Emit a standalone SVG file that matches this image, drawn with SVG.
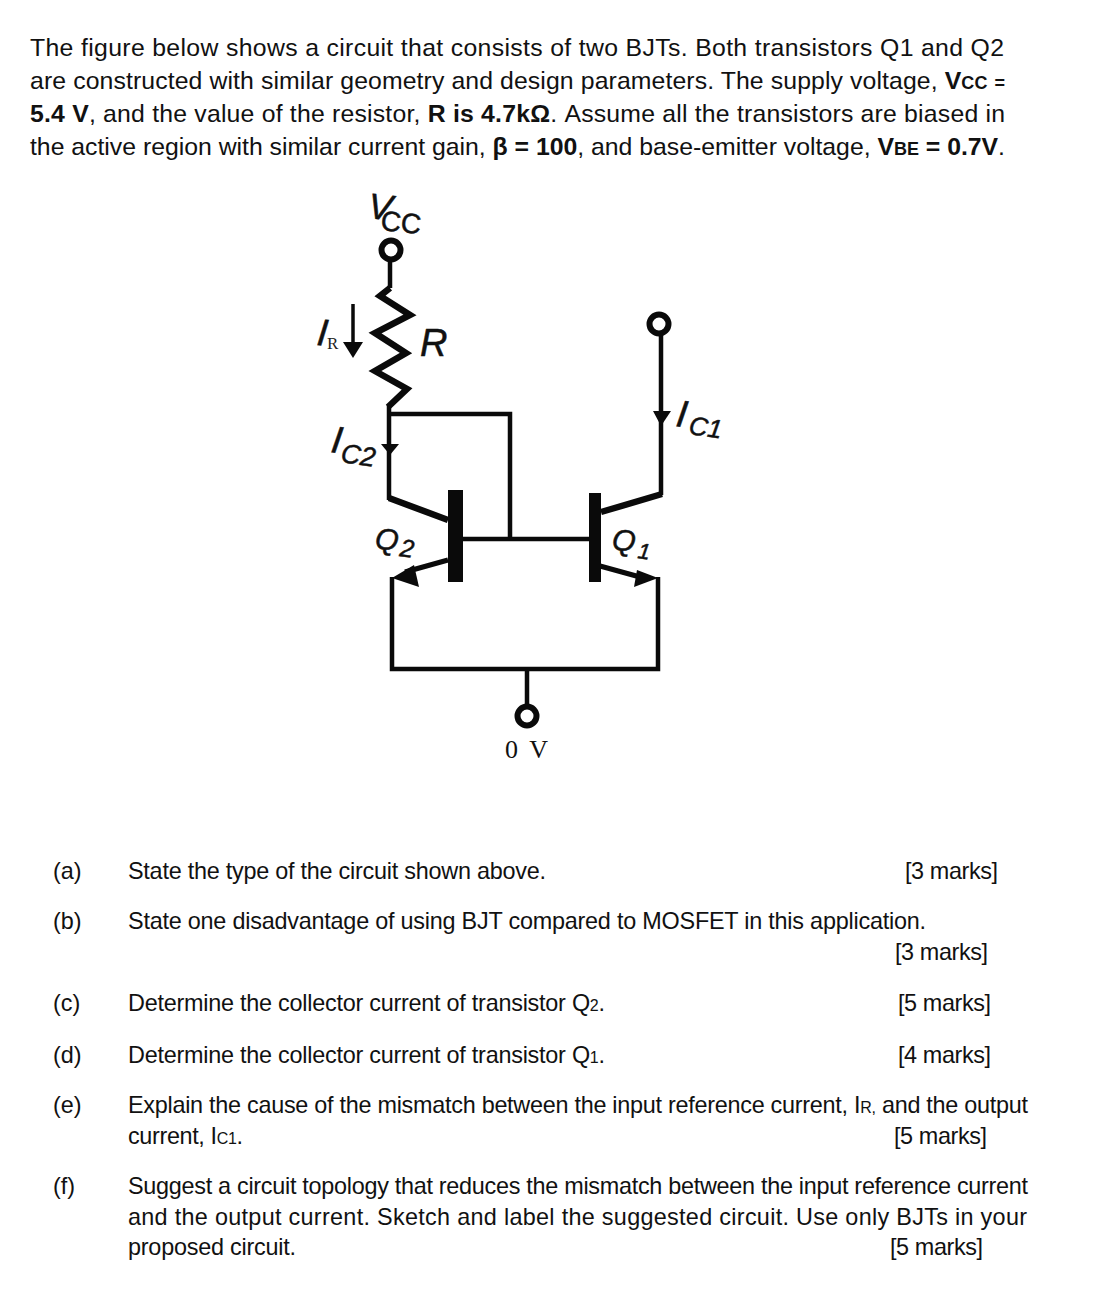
<svg xmlns="http://www.w3.org/2000/svg" width="1097" height="1313" viewBox="0 0 1097 1313">
<style>
.t{font-family:"Liberation Sans",Arial,sans-serif;font-size:24.8px;fill:#111}
.q{font-family:"Liberation Sans",Arial,sans-serif;font-size:23.4px;fill:#111}
.b{font-weight:700}
.s{font-size:18px}
.lbl{font-family:"Liberation Sans",Arial,sans-serif;font-style:italic;fill:#111;stroke:#111;stroke-width:.5}
.w{fill:none;stroke:#0a0a0a;stroke-width:4.5;stroke-linejoin:miter}
.w5{fill:none;stroke:#0a0a0a;stroke-width:6.5}
.a{fill:#0a0a0a;stroke:none}
</style>
<rect width="1097" height="1313" fill="#fff"/>
<g id="intro">
<text class="t" x="30" y="56" textLength="974" lengthAdjust="spacing">The figure below shows a circuit that consists of two BJTs. Both transistors Q1 and Q2</text>
<text class="t" x="30" y="89" textLength="975" lengthAdjust="spacing">are constructed with similar geometry and design parameters. The supply voltage, <tspan class="b">V</tspan><tspan class="b s">CC</tspan> <tspan class="b s">=</tspan></text>
<text class="t" x="30" y="122" textLength="975" lengthAdjust="spacing"><tspan class="b">5.4 V</tspan>, and the value of the resistor, <tspan class="b">R is 4.7kΩ</tspan>. Assume all the transistors are biased in</text>
<text class="t" x="30" y="155" textLength="975" lengthAdjust="spacing">the active region with similar current gain, <tspan class="b">β = 100</tspan>, and base-emitter voltage, <tspan class="b">V</tspan><tspan class="b s">BE</tspan> <tspan class="b">= 0.7V</tspan>.</text>
</g>
<g id="connectors">
<path class="w" d="M390 258V288"/>
<path class="w5" d="M390 288L380 296L410 315L375 333L406 353L375 371L407 389L388 407"/>
<path class="w" d="M389 405V500M389 414H510V539M463 539H590M661 332V495"/>
<path class="w5" d="M389 498L448 520M601 512L662 494"/>
<path class="w" d="M392 577V669H658V577M527 669V706"/>
<path d="M353 304V345" fill="none" stroke="#0a0a0a" stroke-width="3.5"/>
<path d="M448 560L405 572M600 566L640 577" fill="none" stroke="#0a0a0a" stroke-width="5"/>
</g>
<g id="arrows">
<polygon class="a" points="343,342 363,342 353,358"/>
<polygon class="a" points="653,411 671,411 661,426"/>
<polygon class="a" points="381,444 399,444 390,455"/>
<polygon class="a" points="392,578 414,565 419,587"/>
<polygon class="a" points="658,578 637,570 634,587"/>
</g>
<g id="Q2"><rect x="448" y="490" width="15" height="92" fill="#0a0a0a"/></g>
<g id="Q1"><rect x="589" y="493" width="12" height="89" fill="#0a0a0a"/></g>
<g id="terminals">
<circle cx="391" cy="250" r="9.5" fill="#fff" stroke="#0a0a0a" stroke-width="6"/>
<circle cx="659" cy="324" r="9.5" fill="#fff" stroke="#0a0a0a" stroke-width="6"/>
<circle cx="527" cy="716" r="9.5" fill="#fff" stroke="#0a0a0a" stroke-width="6"/>
</g>
<g id="labels">
<text class="lbl" transform="translate(367 218) rotate(6)" font-size="36">V</text>
<text class="lbl" transform="translate(380 230) rotate(6)" font-size="28" style="font-style:normal">CC</text>
<text class="lbl" transform="translate(316 345) rotate(6)" font-size="38">I</text>
<text x="327" y="349" font-family="Liberation Serif,serif" font-size="17" fill="#222">R</text>
<text class="lbl" x="420" y="356" font-size="38">R</text>
<text class="lbl" transform="translate(330 452) rotate(8)" font-size="38">I</text>
<text class="lbl" transform="translate(340 462) rotate(8)" font-size="27">C2</text>
<text class="lbl" transform="translate(675 426) rotate(8)" font-size="38">I</text>
<text class="lbl" transform="translate(688 434) rotate(8)" font-size="26">C1</text>
<text class="lbl" transform="translate(374 548) rotate(8)" font-size="30">Q</text>
<text class="lbl" transform="translate(399 556) rotate(8)" font-size="25">2</text>
<text class="lbl" transform="translate(611 549) rotate(8)" font-size="30">Q</text>
<text class="lbl" transform="translate(637 558) rotate(8)" font-size="22">1</text>
<text x="505" y="758" font-family="Liberation Serif,serif" font-size="26" fill="#111" textLength="43" lengthAdjust="spacing">0 V</text>
</g>
<g id="questions">
<text class="q" x="53" y="879">(a)</text>
<text class="q" x="128" y="879" textLength="418" lengthAdjust="spacing">State the type of the circuit shown above.</text>
<text class="q" x="905" y="879" textLength="93" lengthAdjust="spacing">[3 marks]</text>
<text class="q" x="53" y="929">(b)</text>
<text class="q" x="128" y="929" textLength="798" lengthAdjust="spacing">State one disadvantage of using BJT compared to MOSFET in this application.</text>
<text class="q" x="895" y="960" textLength="93" lengthAdjust="spacing">[3 marks]</text>
<text class="q" x="53" y="1011">(c)</text>
<text class="q" x="128" y="1011" textLength="477" lengthAdjust="spacing">Determine the collector current of transistor Q<tspan font-size="16">2</tspan>.</text>
<text class="q" x="898" y="1011" textLength="93" lengthAdjust="spacing">[5 marks]</text>
<text class="q" x="53" y="1063">(d)</text>
<text class="q" x="128" y="1063" textLength="477" lengthAdjust="spacing">Determine the collector current of transistor Q<tspan font-size="16">1</tspan>.</text>
<text class="q" x="898" y="1063" textLength="93" lengthAdjust="spacing">[4 marks]</text>
<text class="q" x="53" y="1113">(e)</text>
<text class="q" x="128" y="1113" textLength="900" lengthAdjust="spacing">Explain the cause of the mismatch between the input reference current, I<tspan font-size="16">R,</tspan> and the output</text>
<text class="q" x="128" y="1144" textLength="115" lengthAdjust="spacing">current, I<tspan font-size="16">C1</tspan>.</text>
<text class="q" x="894" y="1144" textLength="93" lengthAdjust="spacing">[5 marks]</text>
<text class="q" x="53" y="1194">(f)</text>
<text class="q" x="128" y="1194" textLength="900" lengthAdjust="spacing">Suggest a circuit topology that reduces the mismatch between the input reference current</text>
<text class="q" x="128" y="1225" textLength="899" lengthAdjust="spacing">and the output current. Sketch and label the suggested circuit. Use only BJTs in your</text>
<text class="q" x="128" y="1255" textLength="168" lengthAdjust="spacing">proposed circuit.</text>
<text class="q" x="890" y="1255" textLength="93" lengthAdjust="spacing">[5 marks]</text>
</g>
</svg>
